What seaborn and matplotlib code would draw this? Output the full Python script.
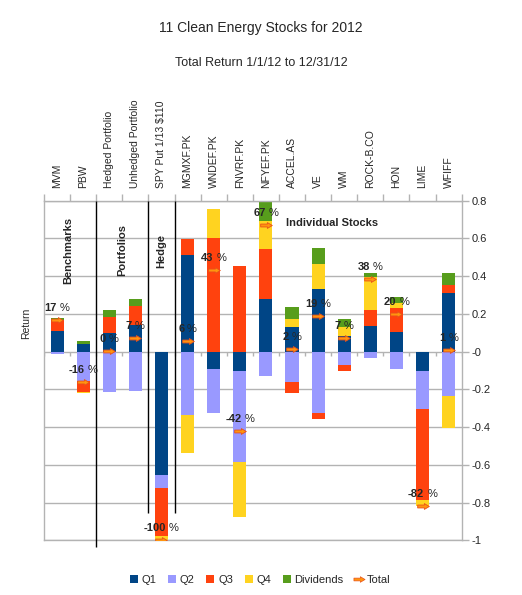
import numpy as np
import pandas as pd
import matplotlib
matplotlib.use("Agg")
import matplotlib.pyplot as plt
from matplotlib.path import Path
from matplotlib.lines import Line2D
from matplotlib.offsetbox import TextArea, HPacker, AnnotationBbox
import seaborn as sns

# chart data: quarterly returns per ticker (stacked)
tickers = ["MVM", "PBW", "Hedged Portfolio", "Unhedged Portfolio", "SPY Put 1/13 \\$110",
           "MGMXF.PK", "WNDEF.PK", "FNVRF.PK", "NFYEF.PK", "ACCEL.AS", "VE", "WM",
           "ROCK-B.CO", "HON", "LIME", "WFIFF"]
q1 = [0.11, 0.04, 0.10, 0.14, -0.652, 0.511, -0.092, -0.103, 0.279, 0.131, 0.33, 0.085, 0.135, 0.103, -0.10, 0.309]
q2 = [-0.01, -0.155, -0.215, -0.208, -0.072, -0.335, -0.231, -0.48, -0.128, -0.161, -0.325, -0.07, -0.033, -0.092, -0.204, -0.235]
q3 = [0.055, -0.058, 0.085, 0.10, -0.25, 0.085, 0.599, 0.451, 0.266, -0.058, -0.031, -0.032, 0.084, 0.127, -0.48, 0.044]
q4 = [0.0, -0.004, 0.0, 0.0, -0.024, -0.203, 0.157, -0.29, 0.144, 0.042, 0.132, 0.045, 0.175, 0.028, -0.036, -0.17]
dividends = [0.015, 0.015, 0.033, 0.04, 0.0, 0.0, 0.0, 0.0, 0.109, 0.062, 0.084, 0.045, 0.021, 0.033, 0.0, 0.062]

series_names = ["Q1", "Q2", "Q3", "Q4", "Dividends"]
colors = ["#004586", "#9999ff", "#ff420e", "#ffd320", "#579d1c"]

df = pd.DataFrame({"Ticker": tickers, "Q1": q1, "Q2": q2, "Q3": q3, "Q4": q4, "Dividends": dividends})
df["Total"] = df[series_names].sum(axis=1)

sns.set_theme(style="white")
plt.rcParams['font.family'] = ['Liberation Sans', 'DejaVu Sans']
plt.rcParams['axes.unicode_minus'] = False

fig = plt.figure(figsize=(5.22, 5.95), dpi=100)
ax = fig.add_axes([0.0843, 0.0916, 0.8002, 0.5714])

x = np.arange(len(df))
grey = "#b3b3b3"

# stacked bars, positives up from 0 and negatives down from 0
pos_base = np.zeros(len(df))
neg_base = np.zeros(len(df))
for name, col in zip(series_names, colors):
    vals = df[name].to_numpy()
    bottoms = np.where(vals >= 0, pos_base, neg_base)
    ax.bar(x, vals, width=0.5, bottom=bottoms, color=col, linewidth=0, zorder=2)
    pos_base += np.where(vals >= 0, vals, 0)
    neg_base += np.where(vals < 0, vals, 0)

# total markers (chunky arrow)
arrow = Path([(-1, -0.25), (0.15, -0.25), (0.15, -0.5), (1, 0), (0.15, 0.5),
              (0.15, 0.25), (-1, 0.25), (-1, -0.25)],
             [Path.MOVETO] + [Path.LINETO] * 6 + [Path.CLOSEPOLY])
sns.scatterplot(x=x, y=df["Total"], marker=arrow, s=70, color="#ff950e",
                edgecolor="#e8501a", linewidth=0.6, zorder=5, ax=ax, legend=False)

# labels: bold number, plain percent sign
for xi, tot in zip(x, df["Total"]):
    pct = int(np.round(tot * 100))
    box = HPacker(children=[TextArea(str(pct), textprops=dict(fontsize=8, fontweight="bold")),
                            TextArea("%", textprops=dict(fontsize=8))],
                  align="baseline", pad=0, sep=2)
    ab = AnnotationBbox(box, (xi, tot), xybox=(0, 12), boxcoords="offset pixels",
                        frameon=False, pad=0, box_alignment=(0.5, 0.5), zorder=6)
    ax.add_artist(ab)

ax.set_xlim(-0.5, len(df) - 0.5)
ax.set_ylim(-1, 0.8)
ytv = np.round(np.arange(-1, 0.81, 0.2), 1)
ax.set_yticks(ytv)
ax.set_yticklabels([f"{v:g}" for v in ytv])
ax.yaxis.tick_right()
ax.grid(axis="y", color=grey, linewidth=1)
ax.set_axisbelow(True)
ax.tick_params(axis="y", direction="out", length=5, width=1, color=grey,
               labelsize=8, pad=2, right=True, left=False)

ax.xaxis.tick_top()
ax.set_xticks(x)
ax.set_xticklabels(df["Ticker"], rotation=90, fontsize=7.5)
ax.set_xticks(np.arange(-0.5, len(df)), minor=True)
ax.tick_params(axis="x", which="major", length=0, pad=9)
ax.tick_params(axis="x", which="minor", direction="out", length=5, width=1,
               color=grey, top=True, bottom=False)
for sp in ax.spines.values():
    sp.set_color(grey)
    sp.set_linewidth(1)
ax.set_ylabel("")
ax.set_xlabel("")

# small ticks on the zero axis line
ax.vlines(np.arange(-0.5, len(df)), 0, -0.022, color=grey, linewidth=1, zorder=1)

# group separators and labels
ax.vlines(1.5, -1.035, 0.8, color="black", linewidth=1, clip_on=False, zorder=4)
ax.vlines([3.5, 4.5], -0.857, 0.8, color="black", linewidth=1, zorder=4)
ax.text(0.42, 0.535, "Benchmarks", rotation=90, ha="center", va="center",
        fontsize=8, fontweight="bold")
ax.text(2.48, 0.54, "Portfolios", rotation=90, ha="center", va="center",
        fontsize=8, fontweight="bold")
ax.text(4.01, 0.535, "Hedge", rotation=90, ha="center", va="center",
        fontsize=8, fontweight="bold")
ax.text(10.52, 0.68, "Individual Stocks", ha="center", va="center",
        fontsize=8, fontweight="bold")

fig.text(0.5, 1 - 28 / 595, "11 Clean Energy Stocks for 2012", ha="center", va="center", fontsize=10)
fig.text(0.5, 1 - 63 / 595, "Total Return 1/1/12 to 12/31/12", ha="center", va="center", fontsize=9)
fig.text(26 / 522, 1 - 323 / 595, "Return", rotation=90, ha="center", va="center", fontsize=7.5)

handles = [Line2D([], [], marker="s", linestyle="none", markersize=6, color=c,
                  markeredgewidth=0) for c in colors]
handles.append(Line2D([], [], marker=arrow, linestyle="none", markersize=8,
                      color="#ff950e", markeredgecolor="#e8501a", markeredgewidth=0.5))
fig.legend(handles, series_names + ["Total"], loc="center", bbox_to_anchor=(0.498, 1 - 580 / 595),
           ncol=6, frameon=False, fontsize=8, handlelength=0.8, handletextpad=0.3,
           columnspacing=1.0, borderpad=0)

fig.savefig("out.png", dpi=100)
